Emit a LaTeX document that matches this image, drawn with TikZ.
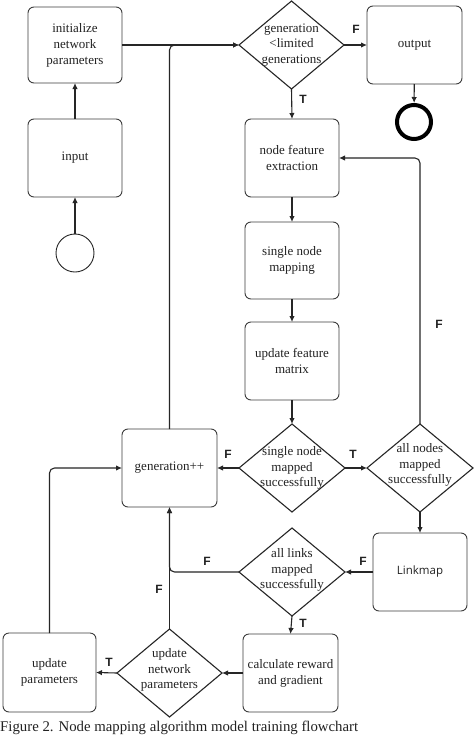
\documentclass[tikz,border=0pt]{standalone}
\usepackage{fontspec}
\setmainfont{Liberation Serif}
\newfontfamily\labfont{Liberation Sans}
\newfontfamily\lkfont{Open Sans}
\usetikzlibrary{shapes.geometric,arrows.meta}
\definecolor{linec}{HTML}{262626}
\definecolor{boxc}{HTML}{3C3C3C}
\definecolor{txtc}{HTML}{222222}
\tikzset{
  box/.style={draw=boxc, rounded corners=6pt, minimum width=94pt, minimum height=78pt,
    align=center, text=txtc, font=\fontsize{13pt}{16pt}\selectfont, line width=0.9pt,
    inner sep=0pt, outer sep=0pt},
  dia/.style={draw=linec, diamond, minimum width=106pt, minimum height=88pt,
    inner sep=0pt, outer sep=0pt, line width=1.1pt},
  dtext/.style={align=center, text=txtc, font=\fontsize{13pt}{15.5pt}\selectfont, inner sep=0pt},
  arr/.style={draw=linec, line width=1.1pt, -{Latex[length=6pt,width=5.5pt]}},
  ln/.style={draw=linec, line width=1.1pt},
  lab/.style={font=\labfont\bfseries\fontsize{12pt}{14pt}\selectfont, text=txtc, inner sep=0pt},
}
\begin{document}
\begin{tikzpicture}[x=1pt,y=-1pt]
\useasboundingbox[fill=white] (0,0) rectangle (474,736);
% boxes
\node[box, minimum height=76pt] (init) at (75,45) {initialize\\network\\parameters};
\node[box] (input) at (75,158) {input};
\node[box, minimum width=95pt] (output) at (414.5,45) {output};
\node[box] (nfe) at (292,158) {node feature\\extraction};
\node[box, minimum height=77pt] (snm) at (292,260.5) {single node\\mapping};
\node[box] (ufm) at (292,361) {update feature\\matrix};
\node[box, minimum width=95pt] (genpp) at (169.5,468) {generation++};
\node[box, font=\lkfont\fontsize{11.5pt}{14pt}\selectfont] (link) at (420,572) {Linkmap};
\node[box, minimum width=95pt] (calc) at (290.5,673) {calculate reward\\and gradient};
\node[box, minimum width=93pt, minimum height=79pt] (upd) at (49.5,672.5) {update\\parameters};
% circles
\node[draw=linec, circle, line width=0.9pt, minimum size=38pt, inner sep=0pt] (start) at (75,253) {};
\node[draw=black, circle, line width=4pt, minimum size=34pt, inner sep=0pt] (endc) at (414,122) {};
% diamonds
\node[dia, minimum width=105pt, label={[dtext]center:{generation\\{<}limited\\generations}}] (gen) at (291.5,45) {};
\node[dia, label={[dtext]center:{single node\\mapped\\successfully}}] (single) at (292,468) {};
\node[dia, label={[dtext, yshift=3pt]center:{all nodes\\mapped\\successfully}}] (alln) at (420,468) {};
\node[dia, label={[dtext, yshift=2pt]center:{all links\\mapped\\successfully}}] (alll) at (292,572) {};
\node[dia, minimum width=105pt, label={[dtext, yshift=3pt]center:{update\\network\\parameters}}] (updn) at (169.5,673) {};
% connectors
\draw[arr] (start) -- (input);
\draw[arr] (input) -- (init);
\draw[arr] (init) -- (gen.west);
\draw[arr, rounded corners=5pt] (genpp.north) |- (gen.west);
\draw[arr] (gen.east) -- (output.west);
\draw[arr] (output) -- (endc);
\draw[arr] (gen.south) -- (nfe.north);
\draw[arr] (nfe) -- (snm);
\draw[arr] (snm) -- (ufm);
\draw[arr] (ufm.south) -- (single.north);
\draw[arr] (single.west) -- (genpp.east);
\draw[arr] (single.east) -- (alln.west);
\draw[arr, rounded corners=5pt] (alln.north) |- (nfe.east);
\draw[arr] (alln.south) -- (link.north);
\draw[arr] (link.west) -- (alll.east);
\draw[arr] (alll.south) -- (calc.north);
\draw[arr] (calc.west) -- (updn.east);
\draw[arr] (updn.west) -- (upd.east);
\draw[arr, rounded corners=5pt] (upd.north) |- (genpp.west);
\draw[arr, rounded corners=5pt] (alll.west) -| (genpp.south);
\draw[arr] (updn.north) -- (genpp.south);
% labels
\node[lab] (lf1) at (356,29) {F};
\node[lab] (lt1) at (303,99) {T};
\node[lab] (lf2) at (439,324) {F};
\node[lab] (lf3) at (228,454) {F};
\node[lab] (lt2) at (353,454) {T};
\node[lab] (lf4) at (363,561) {F};
\node[lab] (lf5) at (207,561) {F};
\node[lab] (lf6) at (159,589) {F};
\node[lab] (lt3) at (303,623) {T};
\node[lab] (lt4) at (109,662) {T};
% caption
\node[anchor=base west, inner sep=0pt, text=txtc, font=\fontsize{14.8pt}{16pt}\selectfont] (cap) at (0,731.5) {Figure 2. Node mapping algorithm model training flowchart};
\end{tikzpicture}
\end{document}
